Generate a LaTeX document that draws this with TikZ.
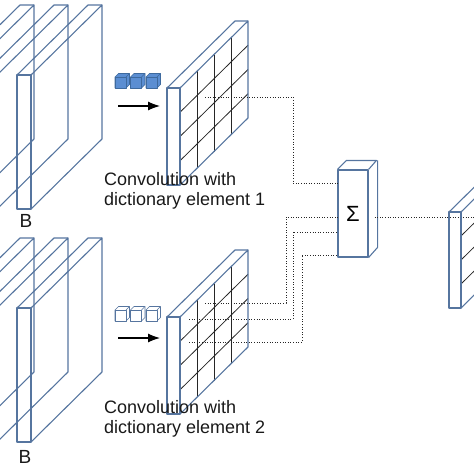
\documentclass[tikz,border=0pt]{standalone}
\usepackage{fontspec}
\setmainfont{Liberation Sans}
\usepackage{xcolor}
\usepackage{tikz}
\usetikzlibrary{arrows.meta}

\definecolor{platecol}{HTML}{56759F}
\definecolor{cubeblue}{HTML}{5B8ED2}
\definecolor{cubeedge}{HTML}{3E6A9E}

\begin{document}
\begin{tikzpicture}[x=1pt, y=-1pt,
    plate/.style={draw=platecol, line width=1.1pt, line join=round},
    gridline/.style={draw=black!85, line width=0.8pt},
    link/.style={draw=black!85, line width=0.9pt, dash pattern=on 1pt off 1.6pt},
    labelfont/.style={font=\fontsize{18}{20}\selectfont, text=black!90, inner sep=0pt},
    cubefull/.style={fill=cubeblue, draw=cubeedge, line width=0.6pt, line join=round},
    cubeempty/.style={fill=white, draw=platecol, line width=0.6pt, line join=round}]
    \clip (0,0) rectangle (474,474);
    % input stacks
    \foreach \ty in {75,308} {
      \foreach \fx in {-51,-17,17} {
        \draw[plate] (\fx,\ty) rectangle ++(14,134);
        \draw[plate] (\fx+14,\ty) -- ++(71,-70) -- ++(0,134) -- ++(-71,70);
        \draw[plate] (\fx,\ty) -- ++(71,-70) -- ++(14,0);
      }
    }
    \node[labelfont, font=\fontsize{19}{20}\selectfont] (B1) at (26,221) {B};
    \node[labelfont, font=\fontsize{19}{20}\selectfont] (B2) at (25,457) {B};
    % kernels and arrows
    \foreach \cx in {115,130.5,146} {
      \draw[cubefull] (\cx,77) -- ++(3.5,-3.5) -- ++(11,0) -- ++(0,11) -- ++(-3.5,3.5) -- ++(-11,0) -- cycle;
      \draw[cubefull] (\cx,77) rectangle ++(11,11);
      \draw[cubefull] (\cx+11,77) -- ++(3.5,-3.5);
      \draw[cubeempty] (\cx,310) -- ++(3.5,-3.5) -- ++(11,0) -- ++(0,11) -- ++(-3.5,3.5) -- ++(-11,0) -- cycle;
      \draw[cubeempty] (\cx,310) rectangle ++(11,11);
      \draw[cubeempty] (\cx+11,310) -- ++(3.5,-3.5);
    }
    \coordinate (arrS1) at (118,106);
    \coordinate (arrE1) at (160,106);
    \coordinate (arrS2) at (118,338);
    \coordinate (arrE2) at (160,338);
    \draw[-{Latex[length=12pt,width=9pt]}, line width=1.1pt] (arrS1) -- (arrE1);
    \draw[-{Latex[length=12pt,width=9pt]}, line width=1.1pt] (arrS2) -- (arrE2);
    % feature maps
    \foreach \gy in {88,317} {
      \foreach \i in {1,2,3} {
        \draw[gridline] (180+17*\i,\gy-16.75*\i) -- ++(0,97);
        \draw[gridline] (180,\gy+24.25*\i) -- ++(68,-67);
      }
      \draw[plate] (167,\gy) rectangle ++(13,97);
      \draw[plate] (180,\gy) -- ++(68,-67) -- ++(0,97) -- ++(-68,67);
      \draw[plate] (167,\gy) -- ++(68,-67) -- ++(13,0);
    }
    \node[labelfont, anchor=base west, align=left] (cap1) at (104,205) {Convolution with\\dictionary element 1};
    \node[labelfont, anchor=base west, align=left] (cap2) at (104,433) {Convolution with\\dictionary element 2};
    % sum
    \node[plate, minimum width=30pt, minimum height=87pt, inner sep=0pt, font=\fontsize{22}{22}\selectfont] (sum) at (353,213.5) {Σ};
    \draw[plate] (sum.north west) -- ++(9,-9) -- ++(30,0) -- (sum.north east);
    \draw[plate] (sum.north east) ++(9,-9) -- ++(0,87) -- (sum.south east);
    \coordinate (a1) at (205,97);
    \coordinate (a2) at (205,303);
    \coordinate (a3) at (189,319);
    \coordinate (a4) at (189,342);
    \draw[link] (a1) -- ++(88,0) |- ([yshift=30.5pt]sum.west);
    \draw[link] (a2) -- ++(81,0) |- ([yshift=-3.5pt]sum.west);
    \draw[link] (a3) -- ++(104,0) |- ([yshift=-18.5pt]sum.west);
    \draw[link] (a4) -- ++(113,0) |- ([yshift=-41.5pt]sum.west);
    \coordinate (outEnd) at (474,217);
    \draw[link] ([shift={(6pt,-3.5pt)}]sum.east) -- (outEnd);
    % output
    \foreach \i in {1,2,3}
      \draw[gridline] (461,212+24*\i) -- ++(68,-67);
    \draw[plate] (449,212) rectangle ++(12,96);
    \draw[plate] (461,212) -- ++(68,-67) -- ++(0,96) -- ++(-68,67);
    \draw[plate] (449,212) -- ++(68,-67) -- ++(12,0);
\end{tikzpicture}
\end{document}
